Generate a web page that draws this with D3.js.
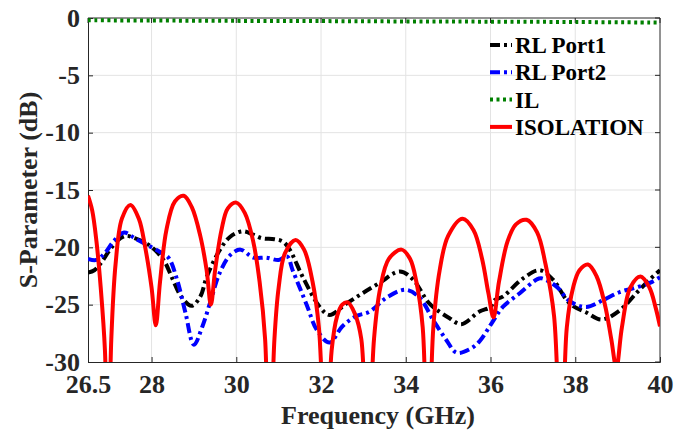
<!DOCTYPE html>
<html>
<head>
<meta charset="utf-8">
<script src="https://cdn.jsdelivr.net/npm/d3@7"></script>
<style>
  body { margin: 0; background: #fff; }
  text { font-family: "Liberation Serif", "Times New Roman", serif; font-weight: bold; }
</style>
</head>
<body>
<div id="chart"></div>
<script>
// x ticks and y ticks
const xTicks = [26.5, 28, 30, 32, 34, 36, 38, 40];
const yTicks = [0, -5, -10, -15, -20, -25, -30];

// RL Port1 (black dash-dot)
const rl1Freq = [26.5, 26.65, 26.8, 27.0, 27.2, 27.4, 27.6, 27.85, 28.07, 28.3, 28.5, 28.7, 28.94, 29.15, 29.3, 29.6, 29.85, 30.15, 30.4, 30.6, 30.9, 31.1, 31.26, 31.57, 31.97, 32.2, 32.6, 32.98, 33.38, 33.86, 34.17, 34.56, 35.04, 35.31, 35.74, 36.0, 36.1, 36.29, 36.77, 37.16, 37.47, 37.87, 38.27, 38.62, 39.05, 39.44, 39.76, 40.0];
const rl1Val  = [-22.2, -22.0, -21.4, -20.3, -19.4, -19.0, -19.2, -19.6, -20.2, -21.2, -22.8, -24.3, -25.1, -24.3, -22.6, -20.3, -19.1, -18.6, -18.9, -19.2, -19.3, -19.5, -20.2, -22.6, -25.2, -25.9, -24.9, -24.0, -23.1, -22.1, -22.8, -24.9, -26.2, -26.7, -25.6, -25.2, -24.6, -24.3, -22.7, -22.0, -22.8, -24.9, -25.7, -26.3, -25.5, -24.0, -22.8, -22.0];

// RL Port2 (blue dash-dot)
const rl2Freq = [26.5, 26.7, 26.9, 27.1, 27.35, 27.6, 27.9, 28.2, 28.4, 28.6, 28.8, 29.0, 29.2, 29.4, 29.6, 29.85, 30.1, 30.4, 30.7, 31.0, 31.2, 31.33, 31.66, 31.9, 32.2, 32.5, 32.83, 33.15, 33.54, 34.0, 34.33, 34.64, 34.96, 35.2, 35.5, 35.74, 36.03, 36.29, 36.69, 37.09, 37.2, 37.55, 37.87, 38.26, 38.66, 39.05, 39.44, 39.76, 40.0];
const rl2Val  = [-21.0, -21.1, -20.5, -19.5, -18.7, -19.2, -19.8, -20.4, -20.9, -22.8, -25.7, -28.5, -26.9, -24.6, -22.3, -20.7, -20.2, -20.9, -20.9, -21.1, -20.8, -22.0, -25.0, -27.2, -28.3, -26.9, -26.0, -25.6, -24.4, -23.7, -24.4, -26.3, -28.1, -29.2, -28.9, -28.2, -26.6, -25.2, -24.0, -22.8, -22.7, -23.4, -24.7, -25.2, -24.6, -23.9, -23.5, -23.1, -22.6];

// IL (green dotted)
const ilFreq = [26.5, 28, 30, 32, 34, 36, 38, 40];
const ilVal  = [-0.2, -0.22, -0.25, -0.27, -0.3, -0.32, -0.35, -0.4];

// ISOLATION (red solid)
const isoFreq = [26.5, 26.6, 26.7, 26.8, 26.9, 26.97, 27.05, 27.15, 27.3, 27.5, 27.7, 27.85, 28.0, 28.1, 28.2, 28.35, 28.55, 28.76, 28.95, 29.15, 29.3, 29.4, 29.5, 29.65, 29.8, 30.0, 30.2, 30.4, 30.55, 30.68, 30.78, 30.9, 31.0, 31.15, 31.4, 31.6, 31.8, 31.95, 32.12, 32.25, 32.38, 32.5, 32.63, 32.8, 32.95, 33.1, 33.25, 33.4, 33.6, 33.9, 34.1, 34.25, 34.4, 34.52, 34.65, 34.8, 35.0, 35.34, 35.6, 35.8, 35.95, 36.07, 36.2, 36.4, 36.6, 36.85, 37.1, 37.3, 37.5, 37.67, 37.8, 37.95, 38.1, 38.3, 38.5, 38.7, 38.85, 38.97, 39.1, 39.3, 39.54, 39.75, 39.9, 40.0];
const isoVal  = [-15.5, -16.8, -19.5, -23.5, -29, -40, -28, -21.5, -17.5, -16.3, -17.5, -20, -23.5, -26.8, -23, -18.5, -16, -15.5, -16.5, -19, -22, -25, -22, -18.5, -16.6, -16.1, -17, -19.5, -23, -28, -40, -28, -23.5, -20.5, -19.35, -20.2, -23, -27, -40, -29, -26, -25, -24.8, -25.8, -28, -40, -28, -23.5, -21, -20.2, -21, -23, -27, -40, -27, -22, -19, -17.5, -18.5, -21, -24, -26.1, -23, -19.5, -18, -17.6, -18.7, -21.5, -26, -40, -27, -23.5, -22, -21.5, -22.5, -25, -28, -30.5, -27, -23.5, -22.55, -23.5, -25.3, -26.9];

const legendLabels = ['RL Port1', 'RL Port2', 'IL', 'ISOLATION'];

const width = 683, height = 438;
const margin = { top: 18, right: 23, bottom: 76, left: 88 };

const svg = d3.select('#chart').append('svg')
    .attr('width', width)
    .attr('height', height);

const x = d3.scaleLinear([26.5, 40], [margin.left, width - margin.right]);
const y = d3.scaleLinear([-30, 0], [height - margin.bottom, margin.top]);

// grid
svg.append('g')
  .selectAll('line')
  .data(xTicks.slice(1, -1))
  .join('line')
    .attr('x1', d => x(d)).attr('x2', d => x(d))
    .attr('y1', y(0)).attr('y2', y(-30))
    .attr('stroke', '#e3e3e3').attr('stroke-width', 1);
svg.append('g')
  .selectAll('line')
  .data(yTicks.slice(1, -1))
  .join('line')
    .attr('x1', x(26.5)).attr('x2', x(40))
    .attr('y1', d => y(d)).attr('y2', d => y(d))
    .attr('stroke', '#e3e3e3').attr('stroke-width', 1);

// axes
const xAxis = d3.axisBottom(x).tickValues(xTicks).tickSize(-5).tickPadding(13).tickFormat(d => d);
const yAxis = d3.axisLeft(y).tickValues(yTicks).tickSize(-5).tickPadding(8).tickFormat(d => d);

const gx = svg.append('g')
    .attr('transform', `translate(0, ${y(-30)})`)
    .call(xAxis);
const gy = svg.append('g')
    .attr('transform', `translate(${x(26.5)}, 0)`)
    .call(yAxis);

[gx, gy].forEach(g => {
  g.select('.domain').attr('stroke', '#262626');
  g.selectAll('.tick line').attr('stroke', '#262626');
  g.selectAll('.tick text').attr('fill', '#262626')
    .style('font-size', '26px')
    .style('font-family', '"Liberation Serif", serif')
    .style('font-weight', 'bold');
});
gy.selectAll('.tick text').attr('dy', '0.32em');

// top and right box lines with inward ticks
svg.append('line')
    .attr('x1', x(26.5)).attr('x2', x(40)).attr('y1', y(0)).attr('y2', y(0))
    .attr('stroke', '#262626');
svg.append('line')
    .attr('x1', x(40)).attr('x2', x(40)).attr('y1', y(0)).attr('y2', y(-30))
    .attr('stroke', '#262626');
svg.append('g').selectAll('line').data(yTicks).join('line')
    .attr('x1', x(40)).attr('x2', x(40) - 5)
    .attr('y1', d => y(d)).attr('y2', d => y(d))
    .attr('stroke', '#262626');
svg.append('g').selectAll('line').data(xTicks).join('line')
    .attr('x1', d => x(d)).attr('x2', d => x(d))
    .attr('y1', y(0)).attr('y2', y(0) + 5)
    .attr('stroke', '#262626');

// clip to the axes box
svg.append('clipPath').attr('id', 'plot-clip')
  .append('rect')
    .attr('x', x(26.5)).attr('y', y(0) - 3)
    .attr('width', x(40) - x(26.5)).attr('height', y(-30) - y(0) + 3);

const line = d3.line()
    .x(d => x(d[0]))
    .y(d => y(d[1]))
    .curve(d3.curveCatmullRom.alpha(0.5));

const series = [
  { name: legendLabels[0], f: rl1Freq, v: rl1Val, color: '#000000', dash: '10,4,3,4', w: 4 },
  { name: legendLabels[1], f: rl2Freq, v: rl2Val, color: '#0000ff', dash: '10,4,3,4', w: 4 },
  { name: legendLabels[2], f: ilFreq, v: ilVal, color: '#008000', dash: '3,3.5', w: 4 },
  { name: legendLabels[3], f: isoFreq, v: isoVal, color: '#ff0000', dash: null, w: 4 },
];

const plot = svg.append('g').attr('clip-path', 'url(#plot-clip)');
series.forEach(s => {
  plot.append('path')
      .datum(s.f.map((f, i) => [f, s.v[i]]))
      .attr('fill', 'none')
      .attr('stroke', s.color)
      .attr('stroke-width', s.w)
      .attr('stroke-dasharray', s.dash)
      .attr('d', line);
});

// legend
const legend = svg.append('g').attr('transform', 'translate(490, 45)');
series.forEach((s, i) => {
  const row = legend.append('g').attr('transform', `translate(0, ${i * 27.3})`);
  row.append('line')
      .attr('x1', 0).attr('x2', 22)
      .attr('stroke', s.color)
      .attr('stroke-width', s.w)
      .attr('stroke-dasharray', s.dash);
  row.append('text')
      .attr('x', 25).attr('y', 8)
      .style('font-size', '23px')
      .attr('fill', '#000')
      .text(s.name);
});

// axis labels
svg.append('text')
    .attr('x', (x(26.5) + x(40)) / 2 + 4)
    .attr('y', 424)
    .attr('text-anchor', 'middle')
    .style('font-size', '26px')
    .attr('fill', '#262626')
    .text('Frequency (GHz)');

svg.append('text')
    .attr('transform', `translate(37, ${(y(0) + y(-30)) / 2}) rotate(-90)`)
    .attr('text-anchor', 'middle')
    .style('font-size', '26px')
    .attr('fill', '#262626')
    .text('S-Parameter (dB)');
</script>
</body>
</html>
